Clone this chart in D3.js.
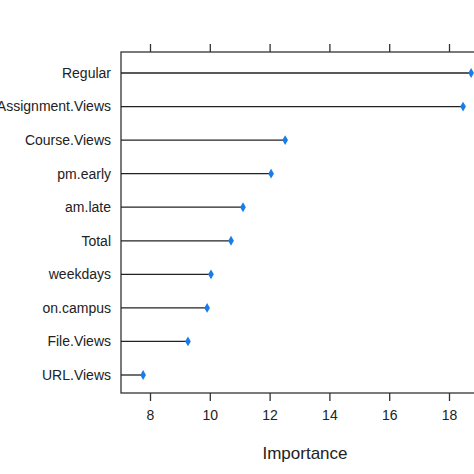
<!DOCTYPE html><html><head><script src="https://cdn.jsdelivr.net/npm/d3@7"></script>
<style>body{margin:0;background:#fff}text{font-family:Arial,"Liberation Sans",sans-serif}</style></head><body>
<script>
const categories=["Regular","Assignment.Views","Course.Views","pm.early","am.late","Total","weekdays","on.campus","File.Views","URL.Views"];
const values=[18.74,18.47,12.52,12.05,11.11,10.71,10.04,9.91,9.27,7.77];
const ticks=[8,10,12,14,16,18];
const W=474,H=474,L=121,R=489,T=52,B=393;
const svg=d3.select("body").append("svg").attr("width",W).attr("height",H);
const x=d3.scaleLinear().domain([8-29/29.9,8+339/29.9]).range([L,R]);
const y=d3.scalePoint().domain(categories).range([73,375]);
svg.append("rect").attr("x",L).attr("y",T).attr("width",R-L).attr("height",B-T).attr("fill","none").attr("stroke","#333").attr("stroke-width",1.3);
const gBot=svg.append("g").attr("transform",`translate(0,${B})`).call(d3.axisBottom(x).tickValues(ticks).tickSize(8).tickPadding(9).tickFormat(d3.format("d")));
const gTop=svg.append("g").attr("transform",`translate(0,${T})`).call(d3.axisTop(x).tickValues(ticks).tickSize(8).tickFormat(""));
[gBot,gTop].forEach(g=>{g.select(".domain").remove();g.selectAll("line").attr("stroke","#333").attr("stroke-width",1.3);g.selectAll("text").attr("font-size",14).attr("fill","#222").style("font-family","Arial, Liberation Sans, sans-serif");});
svg.selectAll(".seg").data(categories).join("line").attr("x1",L).attr("x2",(d,i)=>x(values[i])).attr("y1",d=>y(d)).attr("y2",d=>y(d)).attr("stroke","#222").attr("stroke-width",1.3);
svg.selectAll(".pt").data(categories).join("path").attr("d",d3.symbol(d3.symbolDiamond,28)).attr("transform",(d,i)=>`translate(${x(values[i])},${y(d)})`).attr("fill","#1a7ce8");
svg.selectAll(".lab").data(categories).join("text").attr("x",111).attr("y",d=>y(d)).attr("dy","0.35em").attr("text-anchor","end").attr("font-size",14).attr("fill","#222").text(d=>d);
svg.append("text").attr("x",305).attr("y",459).attr("text-anchor","middle").attr("font-size",17).attr("fill","#222").text("Importance");
</script></body></html>
